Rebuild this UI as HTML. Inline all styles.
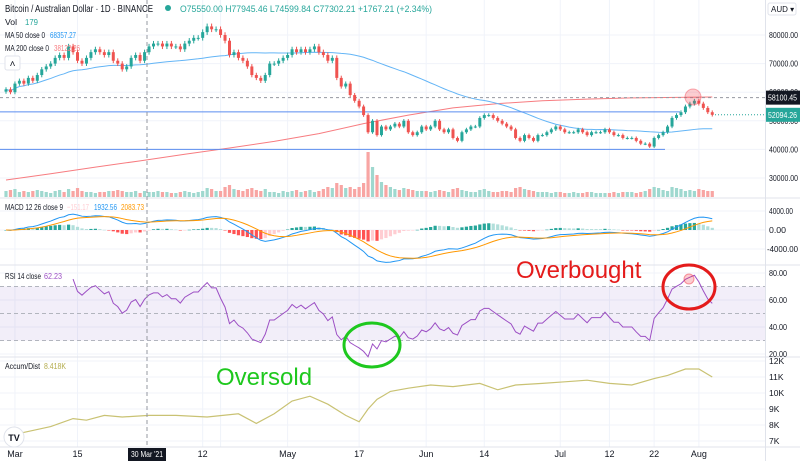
<!DOCTYPE html>
<html><head><meta charset="utf-8"><style>
body{margin:0;background:#fff;font-family:"Liberation Sans",sans-serif}
svg{display:block}
text{font-family:"Liberation Sans",sans-serif}
</style></head><body>
<svg id="c" width="800" height="461" viewBox="0 0 800 461" xmlns="http://www.w3.org/2000/svg">
<g id="grid"></g>
<g id="marks"></g>
<g id="overlay"></g>
</svg>
<script>
const closesK = [61,60,
63,64,63,65,64,66,68,69,70,72,73,72,76,74,71,70,72,74,75,74,73,74,71,70,68,69,72,73,71,74,76,
77,77,76,77,76,76,75,77,78,79,79,81,83,82,82,80,78,73,74,72,71,69,66,65,64,66,70,70,71,72,
73,75,74,75,74,75,76,74,73,71,72,65,62,63,59,57,55,52,46,50,45,48,47,48,49,48,50,46,45,46,48,
47,48,50,47,46,47,44,43,46,47,48,48,51,52,52,51,50,49,48,47,44,43,45,44,43,45,45,46,47,48,
47,46,46,46,47,46,45,46,46,46,47,46,45,45,44,44,44,43,42,42,41,44,45,46,48,51,52,53,55,56,57,
56,54.5,53,52.1];
const volumes = [6,7,
8,5,6,5,6,7,6,5,4,6,7,5,8,6,9,6,5,5,4,5,5,6,6,7,6,5,5,6,4,6,5,
5,6,5,5,4,4,5,6,5,4,5,6,9,8,6,6,10,12,8,7,6,8,9,7,6,8,5,5,4,6,
5,6,7,5,6,7,5,6,8,10,9,14,12,9,10,8,10,14,45,30,22,15,12,10,8,7,9,8,7,6,6,
6,5,6,7,6,5,8,9,7,6,5,5,7,8,6,5,5,6,6,5,9,10,8,7,6,5,5,5,4,5,
5,4,4,5,4,4,5,5,4,4,4,4,5,4,5,5,5,4,5,6,8,10,9,7,6,10,9,8,6,7,6,
8,7,6,6];
const ma200Idx = [0,10,20,30,40,50,60,70,80,90,100,110,120,130,140,150,158];
const ma200Vals = [29300,31500,33800,36000,38300,40500,42800,45500,49000,52000,54500,56000,57000,57600,58000,58200,58300];
const accumIdx = [0,5,10,15,18,22,26,32,38,45,52,56,60,64,68,72,76,79,81,83,86,90,95,100,106,110,114,120,125,130,135,140,145,148,152,155,158];
const accumK = [7.3,7.6,7.9,8.4,8.3,8.6,8.5,8.6,8.6,8.5,8.7,8.1,8.7,9.5,9.8,9.3,8.6,8.2,9.0,9.6,10.1,10.3,10.5,10.4,10.6,10.2,10.5,10.6,10.7,10.8,10.6,10.5,10.9,11.1,11.5,11.5,11.0];
const priceTicks = [80000,70000,60000,50000,40000,30000];
const macdTicks = [4000,0,-4000];
const rsiTicks = [80,60,40,20];
const accumTicks = [12,11,10,9,8,7];
const timeLabels = ["Mar","15","12","May","17","Jun","14","Jul","12","22","Aug"];
const timeIdx = [2,16,44,63,79,94,107,124,135,145,155];

const NS="http://www.w3.org/2000/svg";
function mk(tag,attrs,parent,txt){const e=document.createElementNS(NS,tag);for(const k in attrs)e.setAttribute(k,attrs[k]);if(txt!==undefined)e.textContent=txt;parent.appendChild(e);return e;}
const G=document.getElementById('grid'),M=document.getElementById('marks'),O=document.getElementById('overlay');
const xOf=i=>6+i*4.47;
const yP=p=>35+(80000-p)*0.00286;
const yM=v=>230-v*19/4000;
const yR=v=>300-(v-60)*1.35;
const yA=v=>377-(v-11)*16;
const closes=closesK.map(v=>v*1000);
const N=closes.length;

timeIdx.concat([48]).forEach(i=>{const l=mk('line',{x1:xOf(i),x2:xOf(i),y1:0,y2:447,stroke:'#f0f3fa'},G);});
priceTicks.forEach(p=>mk('line',{x1:0,x2:765,y1:yP(p),y2:yP(p),stroke:'#f0f3fa'},G));
macdTicks.forEach(p=>mk('line',{x1:0,x2:765,y1:yM(p),y2:yM(p),stroke:'#f0f3fa'},G));
rsiTicks.forEach(p=>mk('line',{x1:0,x2:765,y1:yR(p),y2:yR(p),stroke:'#f0f3fa'},G));
accumTicks.forEach(p=>mk('line',{x1:0,x2:765,y1:yA(p),y2:yA(p),stroke:'#f0f3fa'},G));
[198,265,357,447].forEach(y=>mk('line',{x1:0,x2:800,y1:y,y2:y,stroke:'#e0e3eb'},G));
mk('line',{x1:765.5,x2:765.5,y1:0,y2:461,stroke:'#e0e3eb'},G);

for(let i=0;i<N;i++){const o=i?closes[i-1]:closes[0];const up=closes[i]>=o;const v=volumes[i];
 const r=mk('rect',{x:xOf(i)-1.6,y:197-v,width:3.2,height:v,fill:up?'#9fd8cf':'#f8a5a3'},M);
 }

let d='';ma200Idx.forEach((ix,k)=>{d+=(k?'L':'M')+xOf(ix)+' '+yP(ma200Vals[k]);});
const m2=mk('path',{d:d,fill:'none',stroke:'#f77c80','stroke-width':1},M);
d='';for(let i=0;i<N;i++){const s=Math.max(0,i-49);let sum=0;for(let j=s;j<=i;j++)sum+=closes[j];const v=sum/(i-s+1);d+=(i?'L':'M')+xOf(i)+' '+yP(v);}
const m5=mk('path',{d:d,fill:'none',stroke:'#64b5f6','stroke-width':1},M);
const h1=mk('line',{x1:0,x2:680,y1:yP(53100),y2:yP(53100),stroke:'#5b8def','stroke-width':1},M);
const h2=mk('line',{x1:0,x2:665,y1:yP(40000),y2:yP(40000),stroke:'#5b8def','stroke-width':1},M);
mk('line',{x1:0,x2:765,y1:yP(58100),y2:yP(58100),stroke:'#9598a1','stroke-dasharray':'3 3'},M);
mk('line',{x1:712,x2:765,y1:yP(52094),y2:yP(52094),stroke:'#26a69a','stroke-dasharray':'1 2'},M);

for(let i=0;i<N;i++){const o=i?closes[i-1]:closes[0]-800;const c=closes[i];const up=c>=o;const col=up?'#26a69a':'#ef5350';
 const hi=Math.max(o,c)*1.012,lo=Math.min(o,c)*0.988;const x=xOf(i);
 const w=mk('line',{x1:x,x2:x,y1:yP(hi),y2:yP(lo),stroke:col},M);
 
 const yt=yP(Math.max(o,c)),yb=yP(Math.min(o,c));
 const b=mk('rect',{x:x-1.5,y:yt,width:3,height:Math.max(1,yb-yt),fill:col},M);
 }
mk('circle',{cx:693,cy:97,r:8,fill:'rgba(242,54,69,0.25)',stroke:'rgba(242,54,69,0.4)'},M);

function ema(arr,n){const k=2/(n+1);const out=[];arr.forEach((v,i)=>out.push(i?v*k+out[i-1]*(1-k):v));return out;}
const e12=ema(closes,12),e26=ema(closes,26);const macd=e12.map((v,i)=>v-e26[i]);const sig=ema(macd,9);
for(let i=0;i<N;i++){const h=macd[i]-sig[i];const prev=i?macd[i-1]-sig[i-1]:0;let col;
 if(h>=0)col=h>=prev?'#26a69a':'#b2dfdb';else col=h<prev?'#ff5252':'#ffcdd2';
 const y0=yM(0),y1=yM(h);const r=mk('rect',{x:xOf(i)-1.6,y:Math.min(y0,y1),width:3.2,height:Math.max(0.5,Math.abs(y1-y0)),fill:col},M);
 }
d='';macd.forEach((v,i)=>d+=(i?'L':'M')+xOf(i)+' '+yM(v));
const ml=mk('path',{d:d,fill:'none',stroke:'#2196f3'},M);
d='';sig.forEach((v,i)=>d+=(i?'L':'M')+xOf(i)+' '+yM(v));
const sl=mk('path',{d:d,fill:'none',stroke:'#ff9800'},M);

mk('rect',{x:0,y:yR(70),width:765,height:yR(30)-yR(70),fill:'rgba(126,87,194,0.1)'},M);
[70,50,30].forEach(v=>mk('line',{x1:0,x2:765,y1:yR(v),y2:yR(v),stroke:'#b2b5be','stroke-dasharray':'4 3'},M));
let ag=0,al=0;const rsi=[];
for(let i=0;i<N;i++){if(i===0){rsi.push(null);continue;}const ch=closes[i]-closes[i-1];const g=Math.max(ch,0),l=Math.max(-ch,0);
 if(i<=14){ag+=g/14;al+=l/14;rsi.push(null);continue;}
 ag=(ag*13+g)/14;al=(al*13+l)/14;
 rsi.push(al===0?100:100-100/(1+ag/al));}
d='';let first=true;rsi.forEach((v,i)=>{if(v===null)return;d+=(first?'M':'L')+xOf(i)+' '+yR(v);first=false;});
const rl=mk('path',{d:d,fill:'none',stroke:'#9c4fc4'},M);

d='';accumIdx.forEach((ix,k)=>d+=(k?'L':'M')+xOf(ix)+' '+yA(accumK[k]));
const al2=mk('path',{d:d,fill:'none',stroke:'#c9c273','stroke-width':1.2},M);

mk('line',{x1:147,x2:147,y1:0,y2:447,stroke:'#9598a1','stroke-dasharray':'4 3'},O);

function lab(x,y,t,fill,anchor,size,name,tl){const e=mk('text',{x:x,y:y,fill:fill||'#131722','font-size':size||9.5,'text-anchor':anchor||'start'},O,t);if(tl){e.setAttribute('textLength',tl);e.setAttribute('lengthAdjust','spacingAndGlyphs');}return e;}
priceTicks.forEach(p=>lab(769,yP(p)+3,p.toFixed(2),'#131722','start',8.5,'price-tick',29));
macdTicks.forEach(p=>lab(p<0?767:769,yM(p)+3,p.toFixed(2),'#131722','start',8.5,'macd-tick',p<0?31:(p===0?17:24)));
rsiTicks.forEach(p=>lab(769,yR(p)+3,p.toFixed(2),'#131722','start',8.5,'rsi-tick',18));
accumTicks.forEach(p=>lab(769,yA(p)+3,p+'K','#131722','start',8.5,'accum-tick'));
timeLabels.forEach((t,k)=>lab(xOf(timeIdx[k]),457,t,'#131722','middle',9,'time-label'));
mk('rect',{x:128,y:448,width:38,height:13,fill:'#131722'},O);
lab(147,457,"30 Mar '21",'#fff','middle',8,'crosshair-date',32);
mk('rect',{x:766,y:yP(58100)-7,width:34,height:14,fill:'#131722'},O);
lab(768,yP(58100)+3,'58100.45','#fff','start',8.5,'price-marker',29);
mk('rect',{x:766,y:yP(52094)-7,width:34,height:14,fill:'#26a69a'},O);
lab(768,yP(52094)+3,'52094.26','#fff','start',8.5,'last-price-label',29);
const cb=mk('rect',{x:768,y:3,width:28,height:12,rx:2,fill:'#fff',stroke:'#e0e3eb'},O);
lab(771,12,'AUD ▾','#131722','start',8,'currency-label');

lab(5,12,'Bitcoin / Australian Dollar · 1D · BINANCE','#131722','start',10,'chart-title',148);
mk('circle',{cx:168,cy:8,r:3,fill:'#26a69a'},O);
lab(180,12,'O75550.00 H77945.46 L74599.84 C77302.21 +1767.21 (+2.34%)','#26a69a','start',9,'ohlc-legend',252);
lab(5,25,'Vol','#131722','start',8.5,'vol-legend',12);lab(25,25,'179','#26a69a','start',8.5,'vol-value',13);
lab(5,38,'MA 50 close 0','#131722','start',8.5,'ma50-legend',40);lab(50,38,'68357.27','#2196f3','start',8.5,'ma50-value',26);
lab(5,51,'MA 200 close 0','#131722','start',8.5,'ma200-legend',44);lab(54,51,'38122.26','#f77c80','start',8.5,'ma200-value',26);
const tg=mk('rect',{x:5,y:56,width:15,height:14,rx:2,fill:'#fff',stroke:'#e0e3eb'},O);
lab(12.5,67,'˄','#131722','middle',10,'collapse-icon');
lab(5,210,'MACD 12 26 close 9','#131722','start',8.5,'macd-legend',58);
lab(67,210,'−151.17','#ffcdd2','start',8.5,'macd-hist-value',22);lab(94,210,'1932.56','#2196f3','start',8.5,'macd-value',23);lab(121,210,'2083.73','#ff9800','start',8.5,'signal-value',23);
lab(5,279,'RSI 14 close','#131722','start',8.5,'rsi-legend',36);lab(44,279,'62.23','#9c4fc4','start',8.5,'rsi-value',18);
lab(5,369,'Accum/Dist','#131722','start',8.5,'accum-legend',35);lab(44,369,'8.418K','#b5ad4f','start',8.5,'accum-value',22);

lab(516,278,'Overbought','#e41b1b','start',24,'overbought-annotation');
mk('ellipse',{cx:689,cy:287,rx:26,ry:22,fill:'none',stroke:'#e41b1b','stroke-width':3},O);
mk('circle',{cx:689,cy:279,r:5,fill:'rgba(242,54,69,0.25)',stroke:'rgba(242,54,69,0.5)'},O);
lab(216,385,'Oversold','#1ec81e','start',24,'oversold-annotation');
mk('ellipse',{cx:372,cy:345,rx:28,ry:22,fill:'none',stroke:'#1ec81e','stroke-width':3},O);
const lg=mk('circle',{cx:14,cy:437,r:10,fill:'#fff',stroke:'#e0e3eb'},O);
lab(14,441,'TV','#131722','middle',9,'logo-text').setAttribute('font-weight','bold');
</script>
</body></html>
